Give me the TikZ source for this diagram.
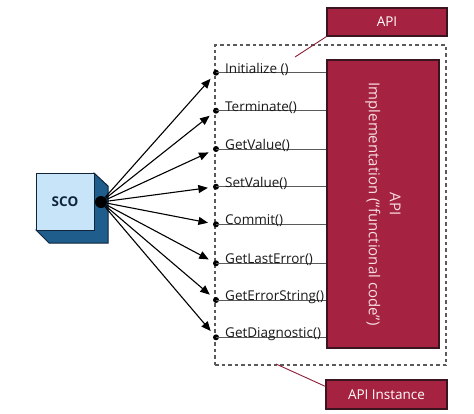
\documentclass[tikz,border=0pt]{standalone}
\usepackage{fontspec}
\setmainfont{Open Sans}
\usetikzlibrary{arrows.meta}
\definecolor{crim}{HTML}{A52341}
\definecolor{crimdark}{HTML}{3A1520}
\definecolor{pinktext}{HTML}{F6DDE3}
\definecolor{scolight}{HTML}{C8E4F8}
\definecolor{scodark}{HTML}{1E5D8C}
\definecolor{scoline}{HTML}{10243A}
\definecolor{linegray}{HTML}{5A5A5A}
\tikzset{
  crimbox/.style={draw=crimdark, line width=1.2pt, fill=crim, text=white, inner sep=0pt},
  fdot/.style={circle, fill=black, inner sep=0pt, minimum size=6pt},
  flabel/.style={anchor=base west, font=\fontsize{13.5}{15}\selectfont, text=black!90, inner sep=0pt},
  arr/.style={-{Triangle[length=9.5pt,width=8pt]}, line width=1.1pt, shorten >=5pt},
  fline/.style={draw=linegray, line width=0.8pt},
  callout/.style={draw=crim!85!black, line width=0.9pt},
}
\begin{document}
\begin{tikzpicture}[x=1pt,y=-1pt]
\useasboundingbox (0,0) rectangle (474,413);
% dashed instance box
\node[draw=linegray, dash pattern=on 3.5pt off 3pt, line width=1.6pt, minimum width=231pt, minimum height=320pt, inner sep=0pt] (inst) at (330.5,205) {};
% implementation box
\node[crimbox, minimum width=112pt, minimum height=288pt] (impl) at (383,204) {};
\node[rotate=-90, text=pinktext, align=center, font=\fontsize{15}{21}\selectfont] (impltext) at (impl.center) {API\\Implementation (``functional code'')};
% API box
\node[crimbox, minimum width=120pt, minimum height=28pt, font=\fontsize{13.5}{15}\selectfont] (api) at (387,22) {API};
% API instance box
\node[crimbox, minimum width=121pt, minimum height=29pt, font=\fontsize{13.5}{15}\selectfont] (apiinst) at (386.5,394.5) {API Instance};
% callouts
\coordinate (c1) at (295,57);
\coordinate (c2) at (276,364);
\draw[callout] (api.south west) -- (c1);
\draw[callout] (apiinst.north west) ++(0,7) -- (c2);
% SCO cube
\fill[scodark, draw=scoline, line width=1pt] (94,173) -- (108,186) -- (108,243) -- (49,243) -- (36,230) -- (94,230) -- cycle;
\node[draw=scoline, line width=1pt, fill=scolight, minimum width=58pt, minimum height=57pt, inner sep=0pt, font=\fontsize{13.5}{15}\selectfont\bfseries, text=scoline] (sco) at (65,201.5) {SCO};
\node[circle, fill=black, inner sep=0pt, minimum size=12pt] (scodot) at (101,202) {};
% functions
\foreach \i/\y/\t in {1/72.7/{Initialize ()},2/110.7/{Terminate()},3/149/{GetValue()},4/186.7/{SetValue()},5/224.3/{Commit()},6/263.3/{GetLastError()},7/300/{GetErrorString()},8/337.3/{GetDiagnostic()}}{
  \node[fdot] (f\i) at (216,\y) {};
  \draw[fline] (f\i.center) -- (impl.west |- f\i);
  \node[flabel] (l\i) at (225,\y+0.5) {\t};
  \draw[arr] (scodot) -- (f\i);
}
\end{tikzpicture}
\end{document}
